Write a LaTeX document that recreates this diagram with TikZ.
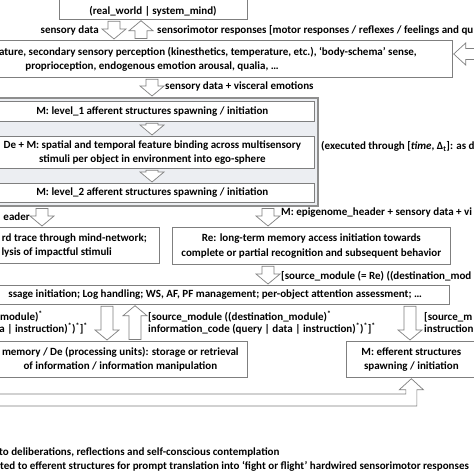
\documentclass[tikz,border=0pt]{standalone}
\usepackage{fontspec}
\setmainfont{Carlito}
\usetikzlibrary{calc}
\definecolor{linegray}{HTML}{7F7F7F}
\definecolor{bigfill}{HTML}{ECEEF2}
\definecolor{bigline}{HTML}{8E8E8E}
\def\sw{6pt}\def\hw{12pt}\def\hl{10pt}
\newcommand\varr[3]{%
 \path[blockarrow] let \p1=#2, \p2=#3, \n1={ifthenelse(\y2<\y1,1,-1)} in
 ({#1pt-\sw},{\y1-(\n1)*1.5pt}) -- ({#1pt+\sw},{\y1-(\n1)*1.5pt}) --
 ({#1pt+\sw},{\y2+(\n1)*(\hl+1pt)}) -- ({#1pt+\hw},{\y2+(\n1)*(\hl+1pt)}) --
 ({#1pt},{\y2+(\n1)*1pt}) -- ({#1pt-\hw},{\y2+(\n1)*(\hl+1pt)}) --
 ({#1pt-\sw},{\y2+(\n1)*(\hl+1pt)}) -- cycle;}
\begin{document}
\begin{tikzpicture}[x=1pt,y=-1pt,
 every node/.style={font=\fontsize{11}{14.5}\selectfont\bfseries},
 box/.style={draw=linegray, line width=0.7pt, fill=white, inner sep=0pt, anchor=north west, align=center},
 txt/.style={inner sep=0pt, text height=7.5pt, text depth=2.2pt},
 blockarrow/.style={draw=linegray, fill=white, line width=0.7pt, line join=miter},
 bigbox/.style={draw=bigline, line width=2pt, fill=bigfill, inner sep=0pt, anchor=north west}]
\useasboundingbox (0,0) rectangle (474,474);
\fill[white] (0,0) rectangle (474,474);
\clip (0,0) rectangle (474,474);

% boxes
\node[box, minimum width=188pt, minimum height=25pt] (A) at (59,-6) {};
\node[txt] (Atext) at (153,12) {(real\_world | system\_mind)};
\node[box, minimum width=462pt, minimum height=37pt] (B) at (-10,40) {};
\node[txt, anchor=east] (B1) at (417,53) {ature, secondary sensory perception (kinesthetics, temperature, etc.), ‘body-schema’ sense,};
\node[txt] (B2) at (152,67) {proprioception, endogenous emotion arousal, qualia, …};

\node[bigbox, minimum width=323pt, minimum height=108pt] (big) at (-6,97) {};
\node[box, minimum width=324pt, minimum height=20pt] (L1) at (-10,101) {M: level\_1 afferent structures spawning / initiation};
\node[box, minimum width=324pt, minimum height=32pt] (DeM) at (-10,136) {De + M: spatial and temporal feature binding across multisensory\\stimuli per object in environment into ego-sphere};
\node[box, minimum width=324pt, minimum height=19pt] (L2) at (-10,183) {M: level\_2 afferent structures spawning / initiation};
\node[txt, anchor=west] (exec) at (321,147) {(executed through [\textit{time}, Δ\textsubscript{t}]: as d};

\node[box, minimum width=169pt, minimum height=36pt] (C) at (-10,227) {};
\node[txt, anchor=east] (C1) at (147,239) {rd trace through mind-network;};
\node[txt, anchor=east] (C2) at (112,253) {lysis of impactful stimuli};
\node[box, minimum width=278pt, minimum height=37pt] (D) at (172,227) {Re: long-term memory access initiation towards\\complete or partial recognition and subsequent behavior};
\node[box, minimum width=459pt, minimum height=19pt] (E) at (-10,285) {};
\node[txt, anchor=east] (E1) at (422,295) {ssage initiation; Log handling; WS, AF, PF management; per-object attention assessment; …};
\node[box, minimum width=254pt, minimum height=36pt] (F) at (-7,341) {memory / De (processing units): storage or retrieval\\of information / information manipulation};
\node[box, minimum width=130pt, minimum height=36pt] (G) at (346,341) {M: efferent structures\\spawning / initiation};

% labels
\node[txt, anchor=east] (l1) at (99,31) {sensory data};
\node[txt, anchor=west] (l2) at (157,31) {sensorimotor responses [motor responses / reflexes / feelings and qu};
\node[txt, anchor=west] (l3) at (165,87) {sensory data + visceral emotions};
\node[txt, anchor=east] (l4) at (30,218) {eader};
\node[txt, anchor=west] (l5) at (281,213) {M: epigenome\_header + sensory data + vi};
\node[txt, anchor=west] (l6) at (281,277) {[source\_module (= Re) ((destination\_mod};
\node[txt, anchor=east] (l7) at (43,318) {module)\textsuperscript{*}};
\node[txt, anchor=east] (l8) at (88,330) {a | instruction)\textsuperscript{*})\textsuperscript{*}]\textsuperscript{*}};
\node[txt, anchor=west] (l9) at (148,318) {[source\_module ((destination\_module)\textsuperscript{*}};
\node[txt, anchor=west] (l10) at (148,330) {information\_code (query | data | instruction)\textsuperscript{*})\textsuperscript{*}]\textsuperscript{*}};
\node[txt, anchor=west] (l11) at (424,318) {[source\_m};
\node[txt, anchor=west] (l12) at (424,330) {instruction};
\node[txt, anchor=west] (l13) at (-1,453) {to deliberations, reflections and self-conscious contemplation};
\node[txt, anchor=west] (l14) at (0,467) {ted to efferent structures for prompt translation into ‘fight or flight’ hardwired sensorimotor responses};

% block arrows
\varr{114}{(A.south)}{(B.north)}
\varr{141}{(B.north)}{(A.south)}
\path[blockarrow] let \p1=(B.east) in
 ({\x1+1pt},-54pt) -- ({\x1+13pt},-43pt) -- ({\x1+13pt},-48.5pt) -- (490pt,-48.5pt) --
 (490pt,-59.5pt) -- ({\x1+13pt},-59.5pt) -- ({\x1+13pt},-65pt) -- cycle;
\varr{152}{(B.south)}{(big.north)}
\varr{152}{(L1.south)}{(DeM.north)}
\varr{152}{(DeM.south)}{(L2.north)}
\varr{42}{(big.south)}{(C.north)}
\varr{268}{(big.south)}{(D.north)}
\varr{268}{(D.south)}{(E.north)}
\varr{107}{(E.south)}{(F.north)}
\varr{135}{(F.north)}{(E.south)}
\varr{410}{(E.south)}{(G.north)}
\path[blockarrow] let \p1=(G.south) in
 (-5pt,-394pt) -- ({\x1-5.5pt},-394pt) -- ({\x1-5.5pt},{\y1-12pt}) -- ({\x1-12pt},{\y1-12pt}) --
 ({\x1},{\y1-1pt}) -- ({\x1+12pt},{\y1-12pt}) -- ({\x1+5.5pt},{\y1-12pt}) --
 ({\x1+5.5pt},-406pt) -- (-5pt,-406pt) -- cycle;
\end{tikzpicture}
\end{document}
